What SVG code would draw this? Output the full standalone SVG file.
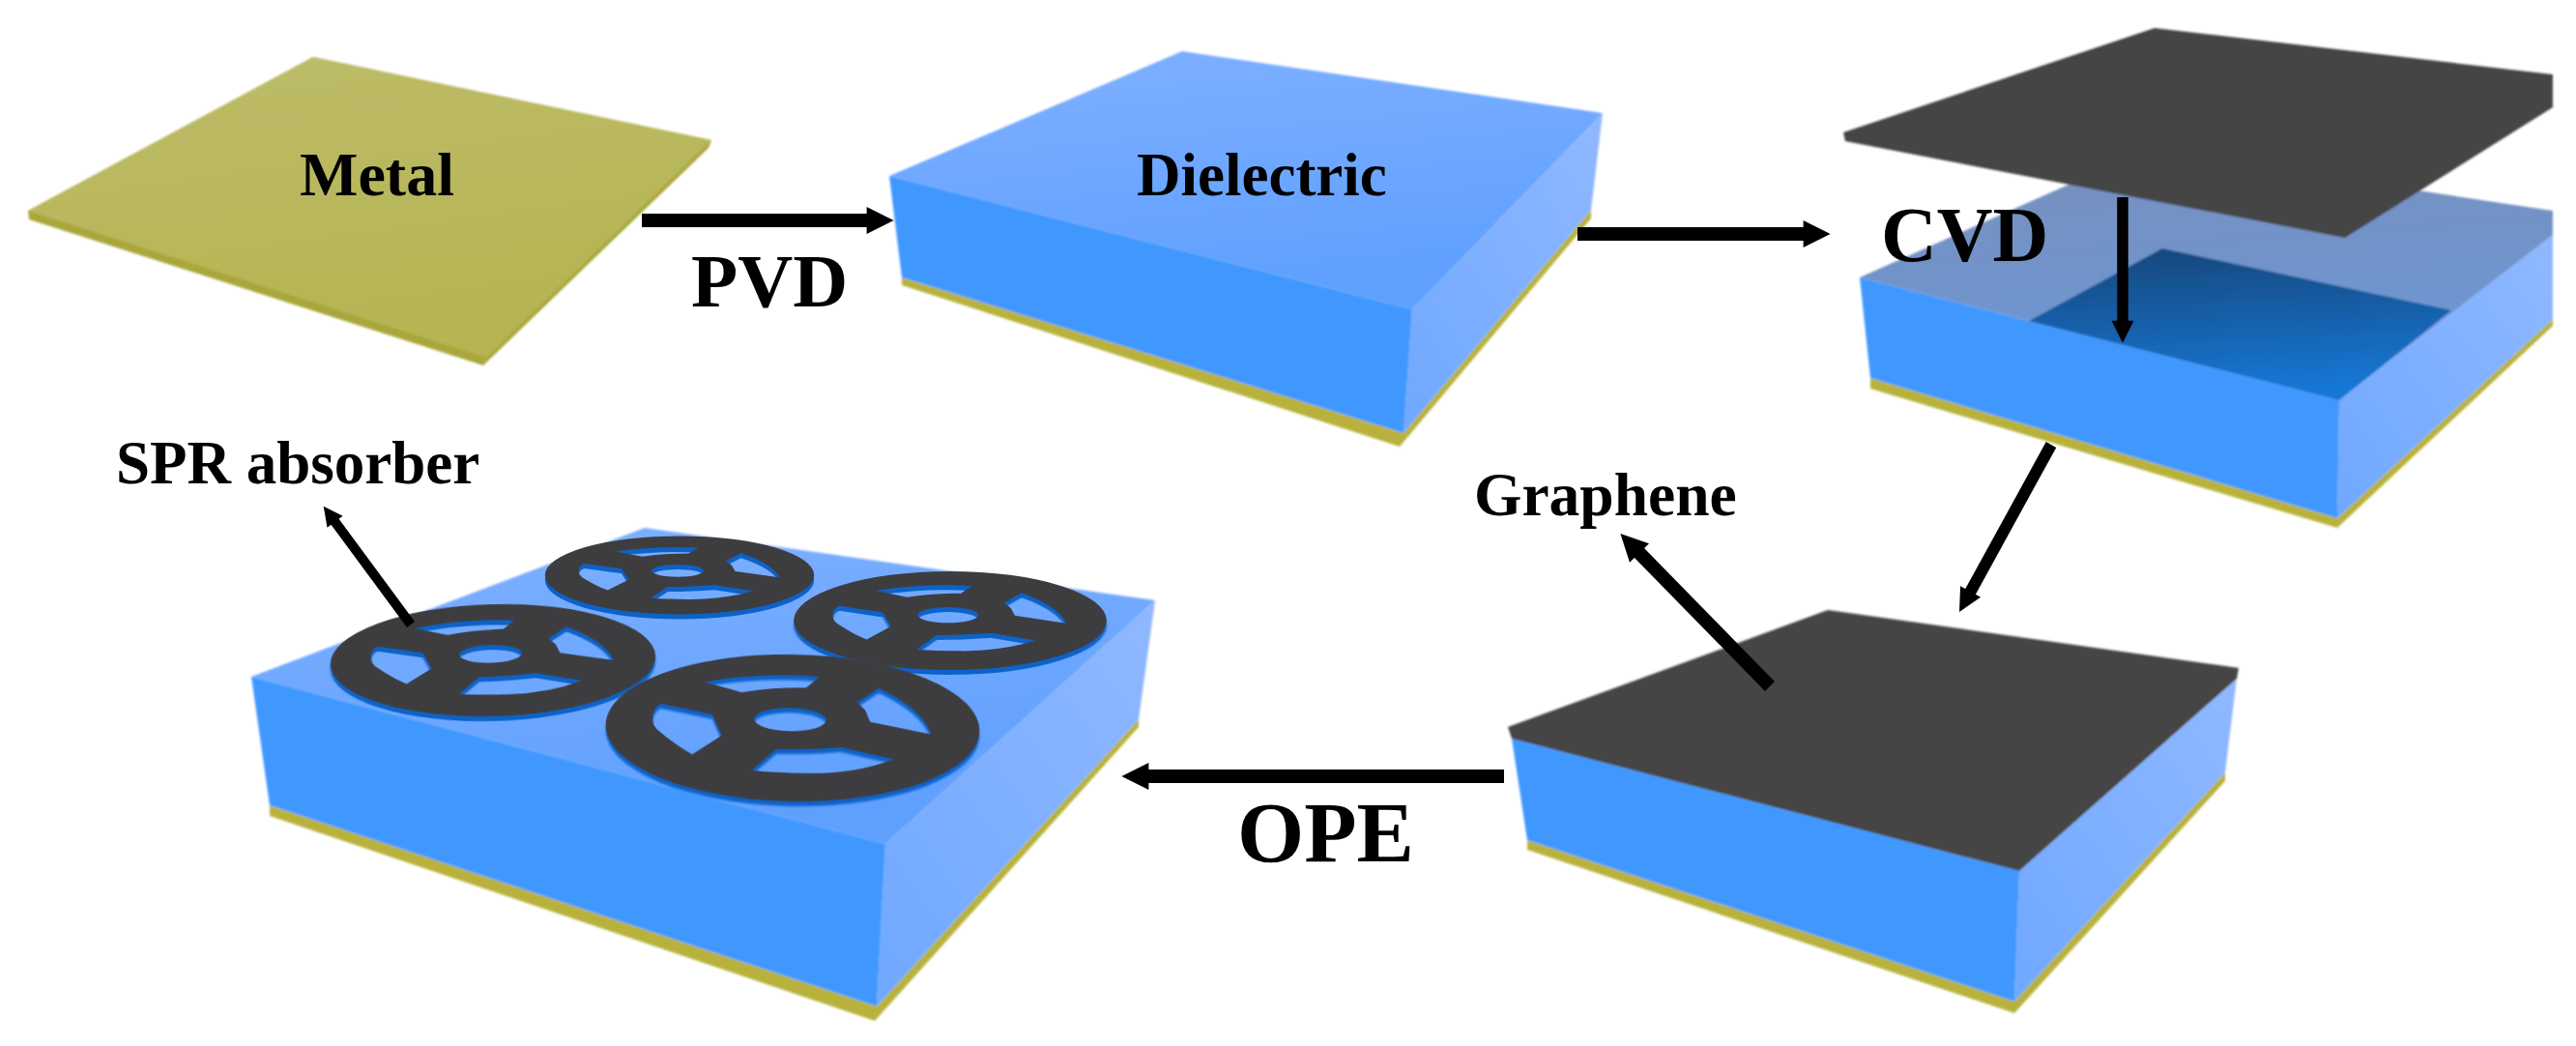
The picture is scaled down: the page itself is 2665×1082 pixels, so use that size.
<svg xmlns="http://www.w3.org/2000/svg" xmlns:xlink="http://www.w3.org/1999/xlink" width="2665" height="1082" viewBox="0 0 2665 1082">
<style>
text{font-family:"Liberation Serif","Times New Roman",serif;font-weight:bold;fill:#000}
.soft{filter:url(#soft)}
.front{fill:#3f98ff}
.gold{fill:#b8b23c}
.dark{fill:#444444}
.right{fill:url(#rightFace)}
.top{fill:url(#topFace)}
.arrow{stroke:#000;fill:none;marker-end:url(#head)}
.disc{fill:#3e3e40;filter:url(#soft)}
.discShadow{fill:#0b62c8;filter:url(#shadowBlur)}
</style>
<defs>
<filter id="soft" x="-5%" y="-5%" width="110%" height="110%"><feGaussianBlur stdDeviation="0.9"/></filter>
<filter id="shadowBlur" x="-10%" y="-10%" width="120%" height="120%"><feGaussianBlur stdDeviation="3"/></filter>
<linearGradient id="topFace" x1="0" y1="0" x2="0.25" y2="1"><stop offset="0" stop-color="#7fb0ff"/><stop offset="1" stop-color="#5fa0ff"/></linearGradient>
<linearGradient id="rightFace" x1="0" y1="1" x2="1" y2="0"><stop offset="0" stop-color="#6fa8ff"/><stop offset="1" stop-color="#90b8ff"/></linearGradient>
<linearGradient id="metalTop" x1="0" y1="0" x2="0.3" y2="1"><stop offset="0" stop-color="#bdbc6a"/><stop offset="1" stop-color="#b6b452"/></linearGradient>
<linearGradient id="greyTop" x1="0" y1="0" x2="0.2" y2="1"><stop offset="0" stop-color="#7890bc"/><stop offset="1" stop-color="#6c96d6"/></linearGradient>
<linearGradient id="shade" x1="0" y1="0" x2="0.15" y2="1"><stop offset="0" stop-color="#174679"/><stop offset="1" stop-color="#1277d6"/></linearGradient>
<marker id="head" viewBox="0 -1.1 2.1 2.2" markerWidth="2.1" markerHeight="2.2" refX="0.1" refY="0" orient="auto" markerUnits="strokeWidth" overflow="visible"><path d="M0 -1 L2 0 L0 1Z" fill="#000"/></marker>
<path id="wheel" fill-rule="evenodd" d="M80 338A580 228 0 1 0 1240 338A580 228 0 1 0 80 338Z
M385 200Q560 165 740 178L700 212Q590 212 500 230Z
M860 255L925 210Q1060 270 1090 350L900 315L885 280Z
M535 472L610 405Q720 405 810 395L975 430Q850 480 700 478Q610 478 535 472Z
M225 320Q225 280 250 270L410 300L440 365L350 425Q300 400 240 350Q225 335 225 320Z
M540 312A112 36 0 1 0 764 312A112 36 0 1 0 540 312Z"/>
</defs>
<rect width="2665" height="1082" fill="#fff"/>

<g id="metal">
<g class="soft">
<polygon points="324,59 736,145 733,153 500,378 30,227 29,218" fill="#a9a73a"/>
<polygon points="324,59 736,145 503,370 29,218" fill="url(#metalTop)"/>
</g>
<text x="310" y="202" font-size="64">Metal</text>
</g>

<g id="dielectric">
<g class="soft">
<polygon points="933,287 1452,448 1646,217 1646,226 1448,462 933,295" class="gold"/>
<polygon points="1461,320 1658,117 1646,217 1452,448" class="right"/>
<polygon points="920,182 1461,320 1452,448 933,287" class="front"/>
<polygon points="1223,53 1658,117 1461,320 920,182" class="top"/>
</g>
<text x="1176" y="202" font-size="63">Dielectric</text>
</g>

<g id="cvd-stack">
<g class="soft">
<polygon points="1935,391 2418,536 2641,330 2641,337 2418,546 1935,402" class="gold"/>
<polygon points="2420,414 2641,243 2641,330 2418,536" class="right"/>
<polygon points="1924,287 2420,414 2418,536 1935,391" class="front"/>
<polygon points="1924,287 2221,155 2641,218 2641,243 2420,414" fill="url(#greyTop)"/>
<polygon points="2237,257 2536,321 2420,414 2099,332" fill="url(#shade)"/>
<polygon points="2229,29 2641,77 2641,111 2426,246 1909,146 1907,137" class="dark"/>
</g>
<text x="1946" y="270" font-size="80">CVD</text>
</g>

<g id="graphene-stack">
<g class="soft">
<polygon points="1580,869 2084,1036 2302,799 2302,808 2084,1048 1580,879" class="gold"/>
<polygon points="2089,901 2314,702 2302,799 2084,1036" class="right"/>
<polygon points="1564,764 2089,901 2084,1036 1580,869" class="front"/>
<polygon points="1891,631 2316,691 2314,702 2089,901 1564,764 1560,752" class="dark"/>
</g>
<text x="1525" y="533" font-size="63.5">Graphene</text>
</g>

<g id="spr-absorber">
<g class="soft">
<polygon points="279,833 907,1041 1178,744 1178,752 905,1056 279,844" class="gold"/>
<polygon points="916,873 1195,621 1178,744 907,1041" class="right"/>
<polygon points="260,700 916,873 907,1041 279,833" class="front"/>
<polygon points="667,546 1195,621 916,873 260,700" class="top"/>
</g>
<g id="wheel-back">
<use xlink:href="#wheel" href="#wheel" class="discShadow" transform="translate(703 600) scale(.24 .178) translate(-660 -338)"/>
<use xlink:href="#wheel" href="#wheel" class="disc" transform="translate(703 595) scale(.24 .178) translate(-660 -338)"/>
</g>
<g id="wheel-right">
<use xlink:href="#wheel" href="#wheel" class="discShadow" transform="translate(983 647) scale(.279 .224) translate(-660 -338)"/>
<use xlink:href="#wheel" href="#wheel" class="disc" transform="translate(983 642) scale(.279 .224) translate(-660 -338)"/>
</g>
<g id="wheel-left">
<use xlink:href="#wheel" href="#wheel" class="discShadow" transform="translate(510 688) rotate(-1.5) scale(.29 .254) translate(-660 -338)"/>
<use xlink:href="#wheel" href="#wheel" class="disc" transform="translate(510 683) rotate(-1.5) scale(.29 .254) translate(-660 -338)"/>
</g>
<g id="wheel-front">
<use xlink:href="#wheel" href="#wheel" class="discShadow" transform="translate(820 758) rotate(1) scale(.3333 .3333) translate(-660 -338)"/>
<use xlink:href="#wheel" href="#wheel" class="disc" transform="translate(820 753) rotate(1) scale(.3333 .3333) translate(-660 -338)"/>
</g>
<text x="120" y="500" font-size="63">SPR absorber</text>
</g>

<g id="connectors">
<line class="arrow" x1="664" y1="228" x2="898" y2="228" stroke-width="14"/>
<line class="arrow" x1="1632" y1="242" x2="1867" y2="242" stroke-width="14"/>
<line class="arrow" x1="2196" y1="204" x2="2196" y2="333" stroke-width="11.5"/>
<line class="arrow" x1="2122" y1="460" x2="2038" y2="613" stroke-width="12"/>
<line class="arrow" x1="1831" y1="710" x2="1695" y2="571" stroke-width="14"/>
<line class="arrow" x1="1556" y1="803" x2="1187" y2="803" stroke-width="14"/>
<line class="arrow" x1="425" y1="646" x2="346" y2="539" stroke-width="10"/>
</g>
<text x="715" y="317" font-size="79">PVD</text>
<text x="1280" y="891" font-size="89">OPE</text>
</svg>
